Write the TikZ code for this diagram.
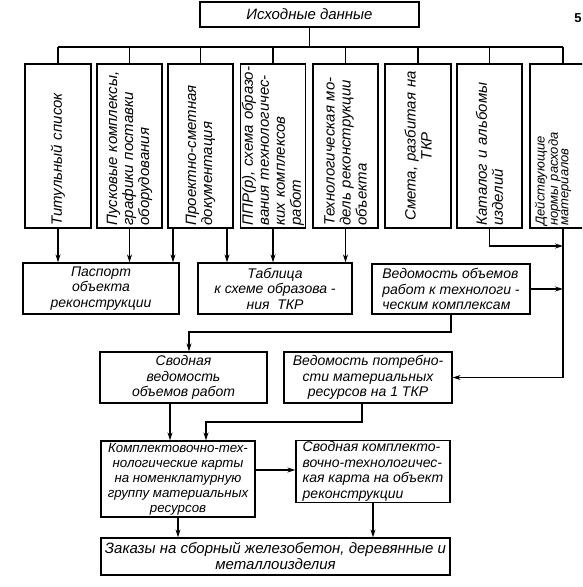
\documentclass[tikz,border=0pt]{standalone}
\usepackage{fontspec}
\setmainfont{Liberation Sans}
\usetikzlibrary{arrows.meta}
\begin{document}
\begin{tikzpicture}[x=1pt,y=-1pt,
  every node/.style={font=\fontsize{14}{15.5}\selectfont\itshape, inner sep=1.5pt},
  box/.style={draw, line width=1.3pt, inner sep=1.5pt},
  col/.style={box, rotate=90, minimum width=164pt, text width=159pt, align=left,
    font=\fontsize{15}{16}\selectfont\itshape},
  ln/.style={line width=1.1pt},
  arr/.style={ln, -{Stealth[length=8pt,width=5pt]}}]
\useasboundingbox (0,0) rectangle (582,587);
\clip (0,0) rectangle (582,587);

% top
\node[box, minimum width=219pt, minimum height=25pt, font=\fontsize{15}{16}\selectfont\itshape] (top) at (309.5,14.5) {Исходные данные};
\coordinate (busL) at (58,47);
\coordinate (busR) at (563,47);

% columns
\node[col, minimum height=66pt] (c1) at (58,146) {Титульный список};
\node[col, minimum height=65pt] (c2) at (129.5,146) {Пусковые комплексы,\\графики поставки\\оборудования};
\node[col, minimum height=65pt] (c3) at (200.5,146) {Проектно-сметная\\документация};
\node[col, minimum height=64pt] (c4) at (273,146) {ППР(р), схема образо-\\вания технологичес-\\ких комплексов\\работ};
\node[col, minimum height=65pt] (c5) at (345.5,146) {Технологическая мо-\\дель реконструкции\\объекта};
\node[col, minimum height=66pt, align=center] (c6) at (418,146) {Смета, разбитая на\\ТКР};
\node[col, minimum height=65pt] (c7) at (489.5,146) {Каталог и альбомы\\изделий};
\node[col, minimum height=66pt] (c8) at (563,146) {};
\node[rotate=90, text width=159pt, align=left, font=\fontsize{13}{10.5}\selectfont\itshape] (c8t) at (553,146) {Действующие\\нормы расхода\\материалов};

% second row
\node[box, minimum width=156pt, minimum height=51pt, align=center] (pasp) at (101,288.5) {Паспорт\\объекта\\реконструкции};
\node[box, minimum width=154pt, minimum height=51pt, align=center] (tabl) at (275,288.5) {Таблица\\к схеме образова -\\ния \ ТКР};
\node[box, minimum width=158pt, minimum height=50pt, align=left] (vedob) at (451,289) {Ведомость объемов\\работ к технологи -\\ческим комплексам};

% third row
\node[box, minimum width=167pt, minimum height=51pt, align=center] (svod) at (183.5,377.5) {Сводная\\ведомость\\объемов работ};
\node[box, minimum width=168pt, minimum height=51pt, align=center] (vedpot) at (368,377.5) {Ведомость потребно-\\сти материальных\\ресурсов на 1 ТКР};

% fourth row
\node[box, minimum width=154pt, minimum height=76pt, align=center, font=\fontsize{13.3}{15}\selectfont\itshape] (kompl) at (178,479) {Комплектовочно-тех-\\нологические карты\\на номенклатурную\\группу материальных\\ресурсов};
\node[box, minimum width=154pt, minimum height=61pt, align=left] (svkomp) at (373,471.5) {Сводная комплекто-\\вочно-технологичес-\\кая карта на объект\\реконструкции};

% bottom
\node[box, minimum width=349pt, minimum height=37pt, align=center, font=\fontsize{15}{16}\selectfont\itshape] (zak) at (275.5,556.5) {Заказы на сборный железобетон, деревянные и\\металлоизделия};

% page mark
\node[font=\fontsize{13}{13}\selectfont\bfseries, inner sep=0pt] (pg) at (578,18) {5};

% bus
\draw[ln] (top.south) -- (top.south |- busL);
\draw[ln] (busL) -- (busR);
\foreach \c in {c1,c2,c3,c4,c5,c6,c7,c8}
  \draw[ln] (\c.east) -- (\c.east |- busL);

% column outputs
\draw[arr] (c1.west) -- (c1.west |- pasp.north);
\draw[arr] (c2.west) -- (c2.west |- pasp.north);
\draw[arr] ([xshift=-27.5pt]c3.west) -- ([xshift=-27.5pt]c3.west |- pasp.north);
\draw[arr] ([xshift=26.5pt]c3.west) -- ([xshift=26.5pt]c3.west |- tabl.north);
\draw[arr] (c4.west) -- (c4.west |- tabl.north);
\draw[arr] (c5.west) -- (c5.west |- tabl.north);

\coordinate (j7) at (489.5,246);
\coordinate (jv) at (563,246);
\draw[arr] (c7.west) -- (j7) -- (jv);
\draw[arr] (c8.west) |- (vedpot.east);
\draw[arr] (vedob.east) -- (vedob.east -| c8.west);

% vedob to svod
\coordinate (jo) at (189,332);
\draw[arr] (vedob.south) |- (jo) -- (jo |- svod.north);

% svod, vedpot to kompl
\draw[arr] ([xshift=-13.5pt]svod.south) -- ([xshift=-13.5pt]svod.south |- kompl.north);
\coordinate (jp) at (206,422);
\draw[arr] ([xshift=-6pt]vedpot.south) |- (jp) -- (jp |- kompl.north);

% kompl to svkomp
\draw[arr] ([yshift=9pt]kompl.east) -- ([yshift=9pt]kompl.east -| svkomp.west);

% to zak
\draw[arr] (kompl.south) -- (kompl.south |- zak.north);
\draw[arr] (svkomp.south) -- (svkomp.south |- zak.north);
\end{tikzpicture}
\end{document}
